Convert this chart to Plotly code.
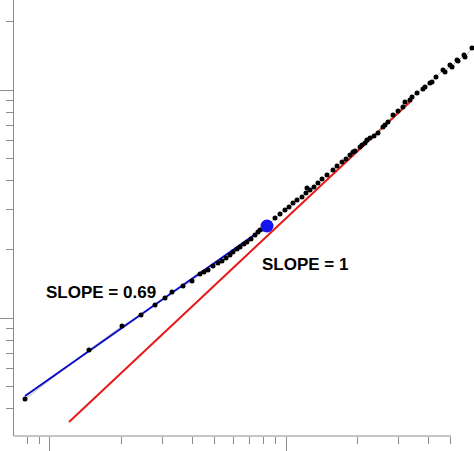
import plotly.graph_objects as go

data_x = [0.784, 1.463, 2.019, 2.430, 2.786, 3.071, 3.288, 3.661, 3.998, 4.321,
          4.493, 4.672, 4.906, 5.150, 5.356, 5.569, 5.790, 5.963, 6.200, 6.385,
          6.637, 6.834, 7.107, 7.389, 7.609, 7.758, 7.990, 8.98, 9.433, 9.90,
          10.30, 10.71, 11.13, 11.69, 12.15, 12.27, 12.64, 13.14, 13.66, 14.21,
          14.92, 15.82, 16.45, 17.27, 17.96, 18.67, 19.23, 19.61, 20.59, 20.99,
          21.61, 22.03, 22.70, 23.60, 24.54, 25.76, 26.27, 27.05, 28.41, 29.83,
          31.31, 31.93, 33.52, 34.20, 35.91, 38.06, 38.81, 40.75, 41.56, 43.20,
          46.27, 47.18, 49.53, 50.52, 53.04, 53.56, 56.79, 57.34, 61.38]
data_y = [0.441, 0.724, 0.922, 1.031, 1.140, 1.224, 1.300, 1.382, 1.453, 1.560,
          1.591, 1.624, 1.691, 1.743, 1.778, 1.833, 1.889, 1.948, 2.007, 2.049,
          2.112, 2.154, 2.221, 2.312, 2.383, 2.432, 2.457, 2.746, 2.858, 2.977,
          3.068, 3.194, 3.293, 3.394, 3.534, 3.717, 3.642, 3.754, 3.910, 4.070,
          4.239, 4.458, 4.642, 4.834, 4.982, 5.187, 5.346, 5.401, 5.623, 5.738,
          5.855, 6.035, 6.160, 6.284, 6.478, 6.882, 7.023, 7.237, 7.769, 8.089,
          8.425, 8.859, 9.041, 9.318, 9.701, 10.10, 10.31, 10.73, 10.84, 11.40,
          12.24, 11.99, 12.87, 12.62, 13.54, 13.41, 14.24, 13.96, 15.29]

# Fitted line, slope 0.69 (blue)
fit_x = [0.784, 8.31]
fit_y = [0.455, 2.532]

# Reference line, slope 1 (red)
ref_x = [1.204, 34.2]
ref_y = [0.350, 9.04]

# Highlighted crossover point
cross_x = [8.31]
cross_y = [2.532]

label_fit = "SLOPE = 0.69"
label_ref = "SLOPE = 1"

x_major = [1, 10]
x_minor = [0.7, 0.8, 0.9, 2, 3, 4, 5, 6, 7, 8, 9, 20, 30, 40, 50]
y_major = [1, 10]
y_minor = [0.3, 0.4, 0.5, 0.6, 0.7, 0.8, 0.9, 2, 3, 4, 5, 6, 7, 8, 9, 20]

fig = go.Figure()
fig.add_trace(go.Scatter(x=ref_x, y=ref_y, mode="lines",
                         line=dict(color="rgb(232,24,24)", width=2), showlegend=False))
fig.add_trace(go.Scatter(x=data_x, y=data_y, mode="lines",
                         line=dict(color="rgb(185,185,185)", width=1), showlegend=False))
fig.add_trace(go.Scatter(x=fit_x, y=fit_y, mode="lines",
                         line=dict(color="rgb(10,10,200)", width=2), showlegend=False))
fig.add_trace(go.Scatter(x=data_x, y=data_y, mode="markers",
                         marker=dict(color="black", size=5), showlegend=False))
fig.add_trace(go.Scatter(x=cross_x, y=cross_y, mode="markers",
                         marker=dict(color="rgb(20,20,240)", size=13), showlegend=False))

fig.add_annotation(text="<b>" + label_fit + "</b>", xref="paper", yref="paper",
                   x=0.189, y=0.330, xanchor="center", yanchor="middle", showarrow=False,
                   font=dict(family="Liberation Sans, Arial", size=17, color="black"))
fig.add_annotation(text="<b>" + label_ref + "</b>", xref="paper", yref="paper",
                   x=0.633, y=0.394, xanchor="center", yanchor="middle", showarrow=False,
                   font=dict(family="Liberation Sans, Arial", size=17, color="black"))

axis_col = "rgb(140,140,140)"
# x axis line only up to the last tick
fig.add_shape(type="line", xref="x", yref="paper", x0=x_minor[0], x1=x_minor[-1],
              y0=0, y1=0, line=dict(color=axis_col, width=1))

fig.update_xaxes(type="log", range=[-0.1525, 1.7966], showgrid=False, zeroline=False,
                 showline=False, showticklabels=False, automargin=False,
                 tickmode="array", tickvals=x_major, ticks="outside", ticklen=15,
                 tickcolor=axis_col, tickwidth=1,
                 minor=dict(tickmode="array", tickvals=x_minor, ticks="outside",
                            ticklen=7, tickcolor=axis_col, tickwidth=1, showgrid=False))
fig.update_yaxes(type="log", range=[-0.5175, 1.3947], showgrid=False, zeroline=False,
                 showline=True, linecolor=axis_col, linewidth=1, showticklabels=False,
                 automargin=False,
                 tickmode="array", tickvals=y_major, ticks="outside", ticklen=14,
                 tickcolor=axis_col, tickwidth=1,
                 minor=dict(tickmode="array", tickvals=y_minor, ticks="outside",
                            ticklen=7, tickcolor=axis_col, tickwidth=1, showgrid=False))

fig.update_layout(width=474, height=451, margin=dict(l=14, r=0, t=0, b=15, pad=0),
                  plot_bgcolor="white", paper_bgcolor="white")

fig.write_html("out.html", config={"displayModeBar": False},
               post_script="document.body.style.margin='0';document.body.style.overflow='hidden';")
